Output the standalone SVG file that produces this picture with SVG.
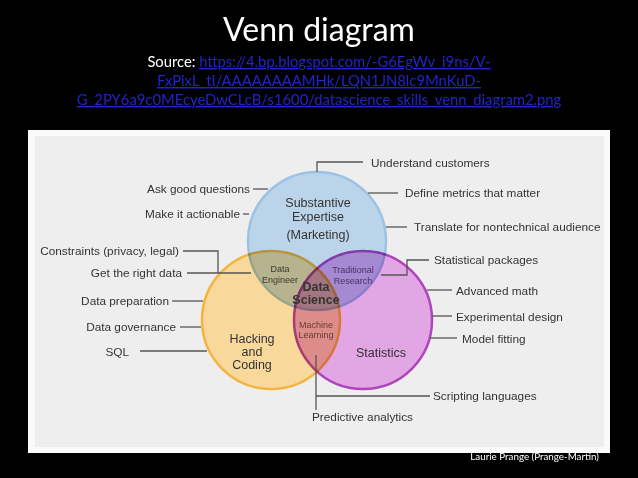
<svg xmlns="http://www.w3.org/2000/svg" width="638" height="478" viewBox="0 0 638 478">
<style>
.title{font-family:Lato,"Open Sans",sans-serif;fill:#fff}
.src{font-family:Lato,"Open Sans",sans-serif;font-size:14.8px}
.link{fill:#2323c8;text-decoration:underline}
.lbl{font-family:"Liberation Sans",Arial,sans-serif;font-size:11.8px;fill:#333}
.cl{font-family:"Liberation Sans",Arial,sans-serif;font-size:12.5px;fill:#333;text-anchor:middle}
.sm{font-family:"Liberation Sans",Arial,sans-serif;font-size:9px;text-anchor:middle}
.ln{fill:none;stroke:#555;stroke-width:1.3}
.c{mix-blend-mode:multiply;stroke-width:2.5}
</style>
<rect width="638" height="478" fill="#000"/>
<g id="title">
<text class="title" x="319" y="41" font-size="32" text-anchor="middle">Venn diagram</text>
<text class="src" x="319" y="67" text-anchor="middle"><tspan fill="#fff">Source: </tspan><tspan class="link">https://4.bp.blogspot.com/-G6EgWv_i9ns/V-</tspan></text>
<text class="src link" x="319" y="86" text-anchor="middle">FxPixL_tI/AAAAAAAAMHk/LQN1JN8lc9MnKuD-</text>
<text class="src link" x="319" y="105" text-anchor="middle">G_2PY6a9c0MEcyeDwCLcB/s1600/datascience_skills_venn_diagram2.png</text>
</g>
<g id="panel">
<rect x="28" y="130" width="582" height="323" fill="#fafafa"/>
<rect x="35" y="136" width="569" height="311" fill="#eeeeee"/>
</g>
<g id="circles" style="isolation:isolate">
<circle id="expertise" class="c" cx="317" cy="241" r="69" fill="#bcd4ea" stroke="#9cc2e4"/>
<circle id="hacking" class="c" cx="271" cy="320" r="69" fill="#f9d89c" stroke="#f3b443"/>
<circle id="statistics" class="c" cx="363" cy="320" r="69" fill="#e2a6e4" stroke="#b044bc"/>
</g>
<g id="connectors">
<path class="ln" d="M253 189H268"/>
<path class="ln" d="M243 214H249"/>
<path class="ln" d="M183 251H218V273"/>
<path class="ln" d="M187 273H251"/>
<path class="ln" d="M172 301H203"/>
<path class="ln" d="M180 327H201"/>
<path class="ln" d="M140 351H207"/>
<path class="ln" d="M317 172V162H363"/>
<path class="ln" d="M368 193H398"/>
<path class="ln" d="M386 227H407"/>
<path class="ln" d="M381 275H407V260H429"/>
<path class="ln" d="M427 290H452"/>
<path class="ln" d="M432 316H452"/>
<path class="ln" d="M430 338H457"/>
<path class="ln" d="M316 355V410"/>
<path class="ln" d="M316 396H430"/>
</g>
<g id="labels-left" class="lbl" text-anchor="end">
<text x="250" y="193">Ask good questions</text>
<text x="240" y="218">Make it actionable</text>
<text x="179" y="255">Constraints (privacy, legal)</text>
<text x="182" y="277">Get the right data</text>
<text x="169" y="305">Data preparation</text>
<text x="176" y="331">Data governance</text>
<text x="129" y="356">SQL</text>
</g>
<g id="labels-right" class="lbl">
<text x="371" y="167">Understand customers</text>
<text x="405" y="197">Define metrics that matter</text>
<text x="414" y="231">Translate for nontechnical audience</text>
<text x="434" y="264">Statistical packages</text>
<text x="456" y="295">Advanced math</text>
<text x="456" y="321">Experimental design</text>
<text x="462" y="343">Model fitting</text>
<text x="433" y="400">Scripting languages</text>
<text x="312" y="421">Predictive analytics</text>
</g>
<g id="node-expertise" class="cl">
<text x="318" y="207">Substantive</text>
<text x="318" y="221">Expertise</text>
<text x="318" y="239">(Marketing)</text>
</g>
<g id="node-hacking" class="cl">
<text x="252" y="343">Hacking</text>
<text x="252" y="356">and</text>
<text x="252" y="369">Coding</text>
</g>
<g id="node-statistics" class="cl">
<text x="381" y="357">Statistics</text>
</g>
<g id="node-data-engineer" class="sm" fill="#3a3a2a">
<text x="280" y="272">Data</text>
<text x="280" y="283">Engineer</text>
</g>
<g id="node-traditional-research" class="sm" fill="#4a2f6a">
<text x="353" y="273">Traditional</text>
<text x="353" y="284">Research</text>
</g>
<g id="node-machine-learning" class="sm" fill="#6a3a30">
<text x="316" y="328">Machine</text>
<text x="316" y="338">Learning</text>
</g>
<g id="node-data-science" class="cl" font-weight="bold" fill="#222">
<text x="316" y="291">Data</text>
<text x="316" y="304">Science</text>
</g>
<g id="credit">
<text x="599" y="460" font-family="Lato,'Open Sans',sans-serif" font-size="9.8" fill="#fff" text-anchor="end">Laurie Prange (Prange-Martin)</text>
</g>
</svg>
